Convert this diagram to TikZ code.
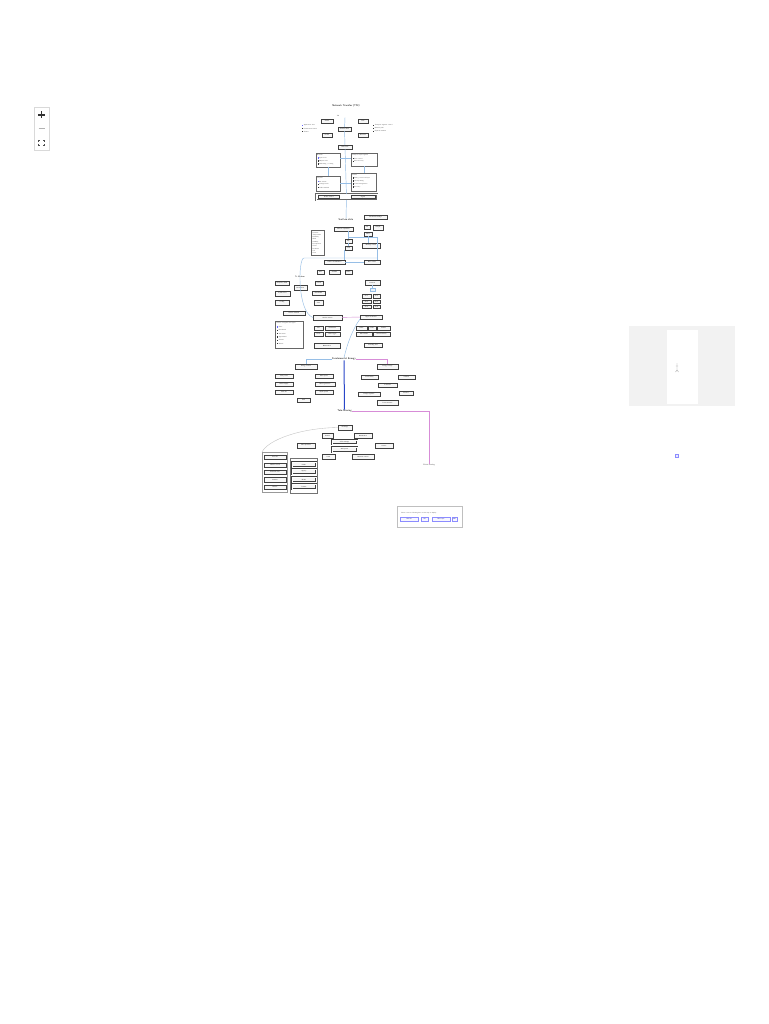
\documentclass[tikz,border=0pt]{standalone}
\usetikzlibrary{calc}
\definecolor{lb}{RGB}{150,190,230}
\definecolor{pk}{RGB}{215,140,215}
\definecolor{db}{RGB}{40,70,200}
\newcommand\tfont{\sffamily\fontsize{1.5}{1.8}\selectfont}
\newcommand\bx[7][]{%
  \pgfmathsetmacro\bw{#4-#2}\pgfmathsetmacro\bh{#5-#3}%
  \pgfmathsetmacro\bcx{(#2+#4)/2}\pgfmathsetmacro\bcy{(#3+#5)/2}%
  \node[bx,minimum width=\bw pt,minimum height=\bh pt,#1] (#6) at (\bcx,\bcy) {#7};}
\newcounter{lc}
\newcommand\bit[4]{\stepcounter{lc}%
  \fill[#3] (#1,#2-0.6) rectangle ++(1.2,1.2);
  \node[tx,anchor=west] (li\arabic{lc}) at (#1+1.6,#2) {#4};}
\newcommand\lit[3]{\stepcounter{lc}%
  \node[tx,anchor=west] (li\arabic{lc}) at (#1,#2) {#3};}
\begin{document}
\begin{tikzpicture}[x=1pt,y=-1pt,
  bx/.style={draw=black!75,line width=0.5pt,fill=black!3,inner sep=0pt,outer sep=0pt,font=\tfont,align=center},
  pn/.style={draw=black!60,line width=0.4pt,fill=white,inner sep=0pt,outer sep=0pt},
  dbl/.style={double=white,double distance=0.5pt,line width=0.35pt},
  tx/.style={inner sep=0pt,font=\tfont,text=black!80},
  ttl/.style={inner sep=0pt,font=\sffamily\fontsize{2.6}{3}\selectfont,text=black},
  lbl/.style={lb,line width=0.45pt},
  pkl/.style={pk,line width=0.45pt},
  dbl2/.style={db,line width=1pt},
  btn/.style={draw=blue!45,fill=blue!3,line width=0.35pt,inner sep=0pt,outer sep=0pt,font=\tfont,text=blue!50!black}]
\useasboundingbox[fill=white] (0,0) rectangle (768,1024);

% ---------- toolbar ----------
\node[draw=black!15,fill=white,line width=0.4pt,minimum width=15pt,minimum height=43pt,inner sep=0pt] (tb) at (41.5,128.5) {};
\draw[black!80,line width=1.1pt] (38,115)--(45,115) (41.5,111.5)--(41.5,118.5);
\draw[black!30,line width=0.7pt] (38.5,128)--(44.5,128);
\draw[black!70,line width=0.5pt] (38.5,142)--(38.5,140.5)--(40,140.5) (43,140.5)--(44.5,140.5)--(44.5,142)
  (38.5,144)--(38.5,145.5)--(40,145.5) (43,145.5)--(44.5,145.5)--(44.5,144);

% ---------- right grey panel ----------
\fill[black!5] (629,326) rectangle (735,406);
\fill[white] (667,330) rectangle (698,404);
\draw[black!35,line width=0.4pt] (677,363)--(677,370) (675.5,372)--(677,370)--(678.5,372) (675.8,366)--(678.2,366);
\draw[blue!45,fill=blue!8,line width=0.3pt] (675.5,454.5) rectangle (678.5,457.5);

% ---------- top section ----------
\node[ttl] (title) at (346,106) {Network Transfer (TM)};
\node[tx] (tm) at (338,116) {TM};
\coordinate (top) at (345,117.5);
\bx{321}{119}{333}{123}{n1}{Sender}
\bx{358}{119}{368}{123}{n2}{Host}
\bx{338}{127}{351}{131}{n3}{Transfer Data}
\bx{322}{133}{332}{137}{n4}{Packet}
\bx{358}{133}{368}{137}{n5}{Receiver}
\bx{338}{145}{352}{149}{n6}{Data Link}
\bit{302}{125.5}{blue!60}{Application data}
\bit{302}{128.5}{black!80}{Presentation format}
\bit{302}{131.5}{black!80}{Session}
\bit{373}{125.5}{black!80}{Transport segment control}
\bit{373}{128.5}{black!80}{Network path}
\bit{373}{131.5}{black!80}{Physical medium}
\draw[lbl] (top) -- (n3) -- (n6);

% ---------- panels ----------
\bx[pn]{316}{153}{340}{167}{p1}{}
\bx[pn]{351}{153}{377}{166}{p2}{}
\bx[pn]{316}{176}{340}{191}{p3}{}
\bx[pn]{351}{173}{376}{191}{p4}{}
\bx[pn,dbl]{316}{194}{377}{200}{bb}{}
\bx{318.5}{195.3}{339}{198.7}{bb1}{Frame control}
\bx{351}{195.3}{375}{198.7}{bb2}{Signal}
\lit{317}{155}{Network}
\bit{317.5}{158}{blue!60}{Input node}
\bit{317.5}{161}{black!80}{Output node}
\bit{317.5}{164}{black!80}{Addressing + routing}
\lit{352}{155}{Transport layer segment}
\bit{352.5}{158.5}{black!80}{Flow control}
\bit{352.5}{161.5}{black!80}{Error recovery}
\lit{317}{178}{Physical}
\bit{317.5}{181.5}{blue!60}{Bit stream}
\bit{317.5}{184.5}{black!80}{Voltage levels}
\bit{317.5}{187.5}{black!80}{Cable standard}
\lit{352}{175}{Session}
\bit{352.5}{178}{black!80}{Dialog control and sync}
\bit{352.5}{181}{black!80}{Checkpointing}
\bit{352.5}{184}{black!80}{Token management}
\bit{352.5}{187}{black!80}{Recovery}
\draw[lbl] (n6) -- (bb);
\draw[lbl] (p1.east |- 0,158) -- (p2.west |- 0,158);
\draw[lbl] (p3.east |- 0,183) -- (p4.west |- 0,183);
\draw[lbl] (p1.south -| 328,0) -- (p3.north -| 328,0);
\draw[lbl] (p2.south -| 364,0) -- (p4.north -| 364,0);

% ---------- surface data ----------
\node[ttl] (st) at (346,219.5) {Surface data};
\draw[lbl] (bb) -- (st);
\bx{364}{215}{387}{219}{par}{Parameter settings}
\bx{334}{227}{353}{231}{a1}{Surface acquisition}
\bx{364}{225}{370}{229}{b1}{Set}
\bx{373}{225}{383}{230}{b2}{Sample}
\bx{364}{232}{372}{236}{b3}{Filter}
\bx[pn]{311}{230}{324}{255}{lst}{}
\lit{312.5}{232.5}{Pressure}
\lit{312.5}{234.8}{Temperature}
\lit{312.5}{237.1}{Humidity}
\lit{312.5}{239.4}{Wind}
\lit{312.5}{241.7}{Visibility}
\lit{312.5}{244}{Precipitation}
\lit{312.5}{246.3}{Cloud}
\lit{312.5}{248.6}{Radiation}
\lit{312.5}{250.9}{Soil}
\lit{312.5}{253.2}{Snow}
\bx{345}{239}{352}{243}{c1}{QC}
\bx{345}{246}{352}{250}{c2}{Code}
\bx{362}{243}{380}{248}{c3}{Message format}
\bx{324}{260}{345}{264}{d1}{Surface transmission}
\bx{364}{260}{380}{264}{d2}{Data center}
\coordinate (j1) at (348.5,237.5);
\coordinate (j2) at (377,258);
\draw[lbl] (a1.south -| 348.5,0) -- (c1.north -| 348.5,0);
\draw[lbl] (c1) -- (c2);
\draw[lbl] (c2.south -| 344,0) -- (d1.north -| 344,0);
\draw[lbl] (j1) -| (d2.north -| j2);
\draw[lbl] (b3) -- (c3.north -| b3);
\draw[lbl] (d1) -- (d2);

% ---------- Tx modem ----------
\bx{317}{270}{324}{274}{f1}{Line}
\bx{329}{270}{340}{274}{f2}{Satellite}
\bx{345}{270}{352}{274}{f3}{Radio}
\node[ttl,font=\sffamily\fontsize{2}{2.4}\selectfont] (txm) at (300,277) {Tx Modem};
\bx{275}{281}{289}{285}{k1}{Frequency band}
\bx{294}{285.5}{307}{290}{k2}{Modulation}
\bx{315}{281}{323}{285}{k3}{Power}
\bx{275}{291}{290}{296}{k4}{Symbol rate}
\bx{312}{291}{325}{295}{k5}{Bandwidth}
\bx{275}{300}{289}{305}{k6}{Coding}
\bx{314}{300}{323}{305}{k7}{Gain}
\bx{365}{280}{380}{285}{g}{Receiver}
\bx[draw=lb,fill=lb!20]{370}{288}{375}{291}{h}{}
\bx{362}{294}{371}{298}{r1}{Ch 1}
\bx{373}{294}{380}{298}{r2}{Ch 2}
\bx{362}{300}{371}{303}{r3}{Ch 3}
\bx{373}{300}{380}{303}{r4}{Ch 4}
\bx{362}{305}{371}{308}{r5}{Ch 5}
\bx{373}{305}{380}{308}{r6}{Ch 6}
\draw[lbl] (g) -- (h);

% ---------- stations ----------
\bx{283}{311}{305}{315}{m1}{Station network}
\bx{313}{315}{342}{320}{m2}{Surface station}
\bx{360}{315}{382}{319}{m3}{Upper-air station}
\draw[pkl] (m2) -- (m3);
\draw[lbl] (j2) -- (304,258) .. controls (298,258) and (297,312) .. (m2.west |- 0,317.5);
\bx[pn]{275}{321}{303}{348}{q}{}
\lit{276.5}{323.5}{Station categories and types}
\bit{277}{327}{blue!60}{Basic}
\bit{277}{330.3}{black!80}{Benchmark}
\bit{277}{333.6}{black!80}{Automatic}
\bit{277}{336.9}{black!80}{Agricultural}
\bit{277}{340.2}{black!80}{Climate}
\bit{277}{343.5}{black!80}{Mobile}
\bx{314}{326}{323}{330}{s1}{Site}
\bx{325}{326}{340}{330}{s2}{Instrument}
\bx{314}{332}{323}{336}{s3}{Clock}
\bx{325}{332}{340}{336}{s4}{Data logger}
\bx{314}{343}{340}{348}{s5}{Observation}
\bx{356}{326}{367}{330}{t1}{Radar}
\bx{368}{326}{376}{330}{t2}{Sonde}
\bx{377}{326}{390}{330}{t3}{Profiler}
\bx{356}{332}{372}{336}{t4}{Wind finder}
\bx{373}{332}{390}{336}{t5}{Ground station}
\bx{364}{343}{382}{347}{t6}{Sounding data}

% ---------- fundamental energy ----------
\node[ttl] (fe) at (344,359) {Fundamental Energy};
\draw[lbl] (m3.south west) .. controls (352,330) and (347,345) .. (fe.north);
\bx{295}{364}{317}{369}{u0}{Energy sources}
\bx{377}{364}{398}{369}{v0}{Energy storage}
\draw[lbl] (fe.west) -| (u0.north);
\draw[pkl] (fe.east) -| (v0.north);
\bx{275}{374}{293}{378}{u1}{Solar power}
\bx{315}{374}{333}{378}{u2}{Wind power}
\bx{275}{382}{293}{386}{u3}{Mains supply}
\bx{315}{382}{335}{386}{u4}{Diesel generator}
\bx{275}{390}{293}{394}{u5}{Fuel cell}
\bx{315}{390}{333}{394}{u6}{Hydro power}
\bx{297}{398}{310}{402}{u7}{Grid}
\bx{361}{375}{378}{379}{v1}{Lead battery}
\bx{398}{375}{415}{379}{v2}{Lithium}
\bx{378}{383}{397}{387}{v3}{Controller}
\bx{358}{392}{380}{396}{v4}{Charge regulator}
\bx{399}{391}{413}{395}{v5}{Inverter}
\bx{377}{400}{398}{405}{v6}{Power monitor}

% ---------- tele-sharing ----------
\node[ttl] (ts) at (344.5,411) {Tele-Sharing};
\draw[dbl2] (fe.south) -- (ts.north);
\node[tx,font=\sffamily\fontsize{1.8}{2.2}\selectfont] (gs) at (429,465) {Global Sharing};
\draw[pkl] (ts.east) -| (gs.north);
\bx{338}{425}{352}{430}{w0}{Exchange}
\bx{322}{433}{333}{438}{w1}{Archive}
\bx{354}{433}{372}{438}{w2}{Distribution}
\bx{297}{443}{315}{448}{w3}{Data products}
\bx[dbl]{332}{440}{357}{444}{w4}{GTS message}
\bx[dbl]{332}{447}{357}{452}{w5}{WIS portal}
\bx{375}{443}{393}{448}{w6}{Service}
\bx{322}{454}{335}{459}{w7}{Users}
\bx{352}{454}{374}{459}{w8}{National centres}
\bx[pn,draw=black!40]{262}{452}{287}{492}{lp}{}
\bx{264}{455}{286}{459}{lp1}{Forecast}
\bx{264}{463}{286}{467}{lp2}{Climate record}
\bx{264}{470}{286}{474}{lp3}{Research data}
\bx{264}{477}{286}{482}{lp4}{Aviation}
\bx{264}{485}{286}{489}{lp5}{Marine}
\bx[pn,draw=black!55]{290}{458}{317}{493}{rp}{}
\bx[dbl]{292}{462}{316}{467}{rp1}{Public}
\bx[dbl]{292}{469}{316}{474}{rp2}{Agency}
\bx[dbl]{292}{477}{316}{482}{rp3}{Media}
\bx[dbl]{292}{484}{316}{489}{rp4}{Partner}
\draw[black!25,line width=0.35pt] (w0.west) .. controls (300,428) and (268,440) .. (lp.north west);

% ---------- bottom-right panel ----------
\bx[pn,draw=black!25]{397}{506}{462}{527}{sel}{}
\node[tx,anchor=west] (selt) at (401,513) {Select a unit or following data on the map to display};
\node[btn,minimum width=18pt,minimum height=4pt] (bt1) at (409,519) {Unit list};
\node[btn,minimum width=7pt,minimum height=4pt] (bt2) at (424.5,519) {All};
\node[btn,minimum width=18pt,minimum height=4pt] (bt3) at (441,519) {Data layer};
\node[btn,minimum width=5pt,minimum height=4pt] (bt4) at (454.5,519) {OK};
\end{tikzpicture}
\end{document}
